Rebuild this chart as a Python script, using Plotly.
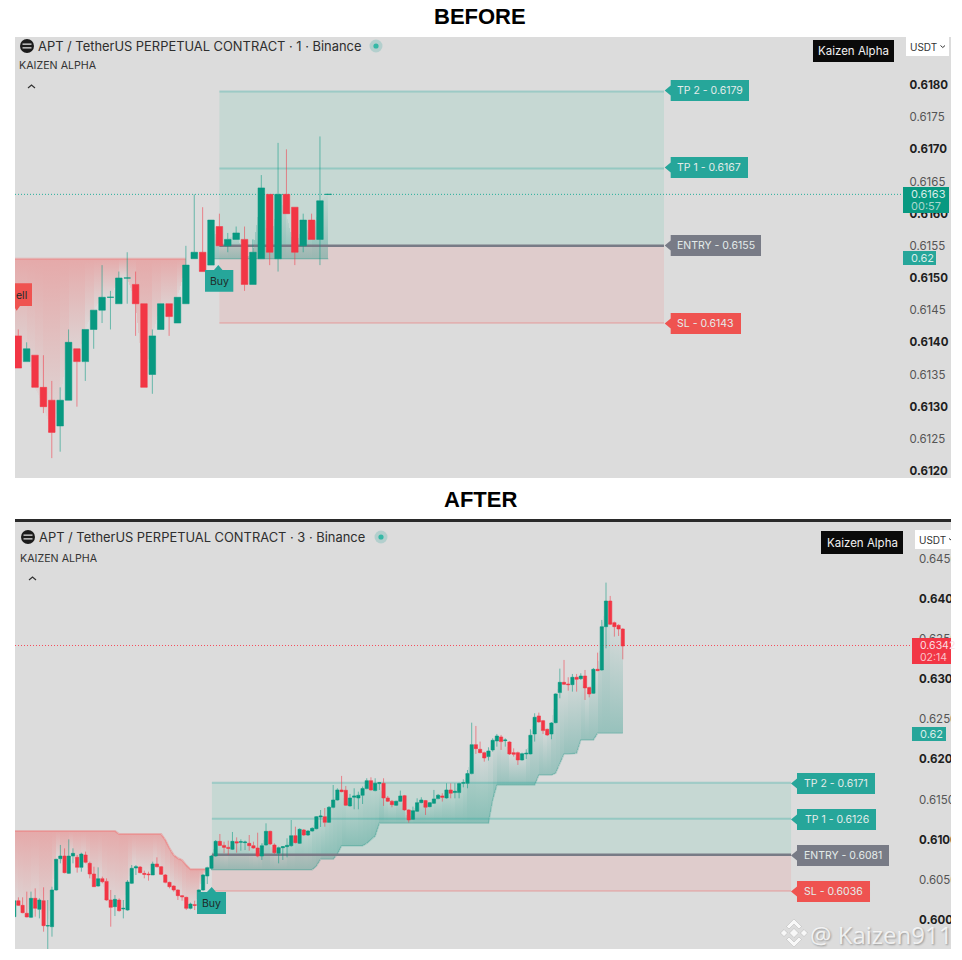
import plotly.graph_objects as go

W = 962
H = 960

# BEFORE panel, 1 minute candles
bef_open = [.6141, .6137, .6138, .6133, .6131, .6127, .6131, .6139, .6137, .6142,
            .6145, .6147, .6146, .6150, .6149, .6146, .6135, .6142, .6146, .6143,
            .6146, .6153, .6154, .6152, .6158, .6155, .6156, .6156, .6149, .6153,
            .6163, .6153, .6163, .6161, .6155, .6159, .6156, .6163]
bef_high = [.6142, .6140, .6138, .6138, .6134, .6133, .6142, .6139, .6142, .6145,
            .6152, .6148, .6151, .6154, .6151, .6146, .6142, .6146, .6146, .6147,
            .6155, .6163, .6161, .6159, .6160, .6157, .6158, .6158, .6156, .6166,
            .6163, .6171, .6170, .6161, .6160, .6160, .6172, .6163]
bef_low = [.6136, .6137, .6133, .6129, .6122, .6123, .6131, .6130, .6134, .6139,
           .6143, .6142, .6146, .6146, .6141, .6133, .6132, .6142, .6141, .6143,
           .6146, .6153, .6151, .6152, .6155, .6154, .6156, .6148, .6149, .6153,
           .6152, .6151, .6160, .6152, .6154, .6156, .6152, .6163]
bef_close = [.6136, .6139, .6133, .6130, .6126, .6131, .6140, .6137, .6142, .6145,
             .6147, .6147, .6150, .6150, .6146, .6133, .6141, .6146, .6144, .6147,
             .6152, .6154, .6151, .6159, .6155, .6156, .6157, .6149, .6154, .6164,
             .6154, .6163, .6160, .6154, .6159, .6156, .6162, .6163]
bef_red_stop = [.6153] * 21
bef_teal_stop = [.6153] * 15
bef_ticks = [.6180, .6175, .6170, .6165, .6160, .6155, .6150, .6145, .6140, .6135, .6130, .6125, .6120]
bef_levels = {"TP 2": .6179, "TP 1": .6167, "ENTRY": .6155, "SL": .6143}
bef_last = .6163

# AFTER panel, 3 minute candles
aft_open = [.60039, .60238, .60180, .60081, .60031, .60268, .60131, .60238, .59923, .59914,
            .60372, .60762, .60795, .60579, .60795, .60779, .60654, .60808, .60704, .60571,
            .60421, .60513, .60479, .60247, .60164, .60247, .60135, .60122, .60455, .60646,
            .60658, .60579, .60571, .60559, .60696, .60662, .60559, .60467, .60421, .60372,
            .60301, .60280, .60143, .60189, .60185, .60372, .60546, .60642, .60795, .60978,
            .60928, .60903, .60879, .60974, .60966, .60962, .60953, .60924, .60895, .60795,
            .60933, .61103, .60933, .60829, .60899, .60912, .60924, .61049, .60953, .61120,
            .61057, .61107, .61136, .61282, .61286, .61215, .61402, .61494, .61619, .61615,
            .61420, .61528, .61519, .61553, .61636, .61735, .61611, .61698, .61702, .61519,
            .61478, .61428, .61478, .61548, .61370, .61253, .61353, .61461, .61486, .61411,
            .61453, .61511, .61544, .61519, .61619, .61586, .61586, .61702, .61702, .61823,
            .62184, .62126, .62084, .62035, .62118, .62230, .62280, .62234, .62217, .62084,
            .62084, .61993, .62068, .62068, .62317, .62542, .62483, .62375, .62317, .62458,
            .62833, .62961, .62940, .62932, .63024, .63007, .63040, .62895, .62824, .63123,
            .63115, .63655, .63975, .63705, .63672, .63626]
aft_high = [.60280, .60280, .60280, .60351, .60351, .60392, .60268, .60405, .60247, .60413,
            .60762, .60933, .60891, .61003, .60891, .60808, .60837, .60850, .60725, .60662,
            .60654, .60538, .60517, .60372, .60309, .60268, .60247, .60496, .60683, .60683,
            .60671, .60613, .60600, .60725, .60779, .60671, .60571, .60475, .60430, .60380,
            .60309, .60288, .60214, .60238, .60380, .60571, .60662, .60808, .60995, .61070,
            .60974, .60987, .61095, .61028, .61003, .60987, .61057, .60974, .61086, .60953,
            .61203, .61111, .60953, .60912, .60920, .61016, .61244, .61161, .61140, .61132,
            .61120, .61153, .61294, .61369, .61394, .61419, .61681, .61640, .61794, .61669,
            .61569, .61640, .61598, .61661, .61765, .61777, .61765, .61719, .61765, .61544,
            .61494, .61486, .61611, .61557, .61378, .61411, .61515, .61528, .61494, .61469,
            .61619, .61569, .61578, .61702, .61702, .61702, .61710, .61752, .61868, .62458,
            .62417, .62222, .62097, .62151, .62263, .62317, .62305, .62263, .62226, .62138,
            .62097, .62084, .62126, .62375, .62575, .62583, .62492, .62384, .62463, .62824,
            .63132, .63240, .63024, .63065, .63065, .63074, .63115, .62907, .63140, .63331,
            .63739, .64204, .64038, .63718, .63685, .63635]
aft_low = [.60031, .60172, .60081, .60031, .60022, .60039, .60018, .59852, .59632, .59790,
           .60363, .60704, .60579, .60571, .60704, .60588, .60600, .60704, .60517, .60413,
           .60413, .60455, .60238, .59914, .60047, .60101, .60018, .60114, .60446, .60559,
           .60579, .60517, .60488, .60559, .60654, .60559, .60455, .60392, .60351, .60247,
           .60238, .60122, .60131, .60122, .60172, .60363, .60446, .60629, .60787, .60920,
           .60829, .60808, .60870, .60837, .60862, .60870, .60862, .60887, .60779, .60746,
           .60924, .60933, .60820, .60704, .60746, .60779, .60912, .60953, .60945, .61045,
           .61045, .61099, .61128, .61157, .61161, .61207, .61390, .61486, .61590, .61420,
           .61411, .61378, .61378, .61444, .61627, .61611, .61602, .61619, .61420, .61469,
           .61403, .61420, .61469, .61361, .61212, .61245, .61345, .61453, .61307, .61403,
           .61444, .61503, .61474, .61511, .61515, .61515, .61515, .61652, .61640, .61814,
           .62068, .62076, .61972, .61985, .62097, .62159, .62118, .62159, .62055, .62035,
           .61931, .61985, .62006, .62064, .62222, .62458, .62317, .62292, .62251, .62450,
           .62762, .62928, .62857, .62845, .62845, .62991, .62741, .62774, .62816, .63099,
           .63107, .63385, .63676, .63531, .63539, .63248]
aft_close = [.60238, .60180, .60089, .60035, .60268, .60143, .60247, .59927, .59927, .60372,
             .60754, .60795, .60588, .60795, .60829, .60654, .60820, .60717, .60571, .60413,
             .60513, .60475, .60247, .60155, .60255, .60114, .60143, .60471, .60642, .60662,
             .60588, .60567, .60563, .60696, .60662, .60567, .60467, .60413, .60372, .60301,
             .60288, .60143, .60197, .60180, .60372, .60559, .60650, .60795, .60978, .60928,
             .60903, .60891, .60978, .60958, .60974, .60970, .60924, .60895, .60795, .60924,
             .61103, .60945, .60837, .60899, .60912, .60928, .61049, .60962, .61128, .61057,
             .61107, .61140, .61286, .61294, .61215, .61402, .61494, .61619, .61598, .61428,
             .61519, .61544, .61553, .61636, .61735, .61619, .61702, .61710, .61519, .61478,
             .61436, .61478, .61544, .61370, .61245, .61361, .61461, .61494, .61403, .61461,
             .61507, .61553, .61528, .61619, .61578, .61602, .61698, .61710, .61823, .62184,
             .62134, .62084, .62018, .62105, .62238, .62292, .62222, .62242, .62068, .62064,
             .61993, .62072, .62076, .62301, .62525, .62467, .62359, .62305, .62454, .62816,
             .62961, .62936, .62932, .63024, .62999, .63040, .62891, .62816, .63123, .63107,
             .63655, .63975, .63685, .63655, .63626, .63414]
aft_red_stop = [.61107] * 25 + [.61070] * 11 + [.60995, .60891, .60808, .60767, .60746, .60680,
                                                .60629, .60629, .60629, .60629, .60629]
aft_teal_stop = [.60625] * 25 + [.60671] + [.60754] * 4 + [.60820] + [.60924] * 6 + \
    [.60953, .61003, .61045] + [.61203] * 27 + [.61494] + [.61681] * 10 + [.61806] * 4 + \
    [.61827, .61951, .62068, .62068, .62068, .62076, .62242, .62242, .62242, .62242] + [.62326] * 7
aft_ticks = [.6450, .6400, .6350, .6300, .6250, .6200, .6150, .6100, .6050, .6000]
aft_levels = {"TP 2": .6171, "TP 1": .6126, "ENTRY": .6081, "SL": .6036}
aft_last = .6342

TEAL = "#26a69a"
UP = "#089981"
DOWN = "#f23645"
PANEL = "#dcdcdc"
FONT = "Inter"


def px(x):
    return x / W


def py(y):
    return 1 - y / H


def poly(points, color, layer="above", line=None):
    path = "M " + " L ".join(f"{px(a):.5f},{py(b):.5f}" for a, b in points) + " Z"
    return dict(type="path", path=path, xref="paper", yref="paper", fillcolor=color, layer=layer,
                line=line or dict(width=0))


def rect(x0, y0, x1, y1, color):
    return poly([(x0, y0), (x1, y0), (x1, y1), (x0, y1)], color)


def circle(cx, cy, r, color):
    return dict(type="circle", xref="paper", yref="paper", x0=px(cx - r), x1=px(cx + r),
                y0=py(cy + r), y1=py(cy - r), fillcolor=color, line=dict(width=0))


def stroke(points, color, width=1.2):
    path = "M " + " L ".join(f"{px(a):.5f},{py(b):.5f}" for a, b in points)
    return dict(type="path", path=path, xref="paper", yref="paper", line=dict(color=color, width=width))


def label(x, y, text, size=11, color="#333333", anchor="left", family=FONT, shadow=None):
    font = dict(family=family, size=size, color=color)
    if shadow:
        font["shadow"] = shadow
    return dict(x=px(x), y=py(y), xref="paper", yref="paper", text=text, showarrow=False, font=font,
                xanchor=anchor, yanchor="middle", borderpad=0)


def tick_text(ticks, first_bold):
    # the scale alternates bold and plain labels
    out = []
    for n, t in enumerate(ticks):
        if n % 2 == first_bold:
            out.append(f"<b><span style='color:#1e1e1e'>{t:.4f}</span></b>")
        else:
            out.append(f"{t:.4f}")
    return out


def add_cloud(fig, xs, top, bot, rgb, strong_top, alpha, xa, ya):
    strong = f"rgba({rgb},{alpha})"
    faint = f"rgba({rgb},0.03)"
    for a in range(len(xs) - 1):
        ys = [top[a], top[a + 1], bot[a + 1], bot[a]]
        if max(ys) - min(ys) < 1e-6:
            continue
        scale = [[0, faint], [1, strong]] if strong_top else [[0, strong], [1, faint]]
        fig.add_trace(go.Scatter(x=[xs[a], xs[a + 1], xs[a + 1], xs[a], xs[a]], y=ys + [ys[0]],
                                 mode="none", fill="toself",
                                 fillgradient=dict(type="vertical", colorscale=scale),
                                 hoverinfo="skip", showlegend=False, xaxis=xa, yaxis=ya))


def add_line(fig, xs, ys, color, width, xa, ya, dash="solid"):
    fig.add_trace(go.Scatter(x=xs, y=ys, mode="lines", line=dict(color=color, width=width, dash=dash, shape="linear"),
                             hoverinfo="skip", showlegend=False, xaxis=xa, yaxis=ya))


def add_candles(fig, o, h, l, c, xa, ya):
    fig.add_trace(go.Candlestick(x=list(range(len(o))), open=o, high=h, low=l, close=c,
                                 increasing=dict(fillcolor=UP, line=dict(color="rgba(8,153,129,0.55)", width=1)),
                                 decreasing=dict(fillcolor=DOWN, line=dict(color="rgba(242,54,69,0.55)", width=1)),
                                 hoverinfo="skip", showlegend=False, xaxis=xa, yaxis=ya))


fig = go.Figure()

# BEFORE: x index 0 sits at pixel 18.3, one candle every 8.38 px
bx = (-0.39, 111.3)
by = (0.611891, 0.618746)
bef_x = list(range(len(bef_open)))
add_cloud(fig, [-1] + bef_x[:21], [.6153] + bef_red_stop, [bef_close[0]] + [min(c, s) for c, s in zip(bef_close[:21], bef_red_stop)],
          "240,110,110", True, 0.46, "x", "y")
add_cloud(fig, bef_x[23:], [max(c, s) for c, s in zip(bef_close[23:], bef_teal_stop)], bef_teal_stop,
          "38,150,135", False, 0.38, "x", "y")
add_line(fig, [-1] + bef_x[:21], [.6153] + bef_red_stop, "rgba(240,110,110,0.4)", 2, "x", "y")
add_line(fig, bef_x[23:], bef_teal_stop, "rgba(38,150,135,0.28)", 1.5, "x", "y")
bef_box = (24.0, 77.05)
add_line(fig, bef_box, [bef_levels["TP 2"]] * 2, "rgba(38,166,154,0.3)", 2, "x", "y")
add_line(fig, bef_box, [bef_levels["TP 1"]] * 2, "rgba(38,166,154,0.3)", 2, "x", "y")
add_line(fig, bef_box, [bef_levels["ENTRY"]] * 2, "#787b86", 2.5, "x", "y")
add_line(fig, bef_box, [bef_levels["SL"]] * 2, "rgba(239,83,80,0.22)", 2, "x", "y")
add_line(fig, (bx[0], 105.6), [bef_last] * 2, "rgba(20,170,150,0.9)", 1, "x", "y", dash="1px,2px")
add_candles(fig, bef_open, bef_high, bef_low, bef_close, "x3", "y3")

# AFTER: x index 0 sits at pixel 14.2, one candle every 4.197 px
ax = (0.19, 223.2)
ay = (0.59636, 0.64960)
aft_x = list(range(len(aft_open)))
add_cloud(fig, aft_x[:47], aft_red_stop, [min(c, s) for c, s in zip(aft_close[:47], aft_red_stop)],
          "240,110,110", True, 0.46, "x2", "y2")
add_cloud(fig, aft_x[47:], [max(c, s) for c, s in zip(aft_close[47:], aft_teal_stop)], aft_teal_stop,
          "38,150,135", False, 0.38, "x2", "y2")
add_line(fig, aft_x[:47], aft_red_stop, "rgba(240,110,110,0.4)", 2, "x2", "y2")
add_line(fig, aft_x[47:], aft_teal_stop, "rgba(38,150,135,0.28)", 1.5, "x2", "y2")
aft_box = (47.1, 185.1)
add_line(fig, aft_box, [aft_levels["TP 2"]] * 2, "rgba(38,166,154,0.3)", 2, "x2", "y2")
add_line(fig, aft_box, [aft_levels["TP 1"]] * 2, "rgba(38,166,154,0.3)", 2, "x2", "y2")
add_line(fig, aft_box, [aft_levels["ENTRY"]] * 2, "#787b86", 2.5, "x2", "y2")
add_line(fig, aft_box, [aft_levels["SL"]] * 2, "rgba(239,83,80,0.22)", 2, "x2", "y2")
add_line(fig, (ax[0], 213.9), [aft_last] * 2, "rgba(245,70,85,0.95)", 1, "x2", "y2", dash="1px,2px")
add_candles(fig, aft_open, aft_high, aft_low, aft_close, "x4", "y4")

TOP_DOM = [py(478), py(37)]
BOT_DOM = [py(949), py(522)]
X_DOM = [px(15), px(951)]
hidden = dict(visible=False, showgrid=False, zeroline=False, fixedrange=True, rangeslider=dict(visible=False))


def price_axis(rng, dom, ticks, pos, first_bold):
    return dict(range=rng, domain=dom, anchor="free", position=pos, side="right", tickmode="array",
                tickvals=ticks, ticktext=tick_text(ticks, first_bold), ticks="", showline=False, showgrid=False,
                zeroline=False, fixedrange=True, tickfont=dict(family=FONT, size=11.5, color="#555555"))


shapes = [
    # target and stop boxes under everything
    dict(type="rect", xref="x", yref="y", x0=bef_box[0], x1=bef_box[1], y0=bef_levels["ENTRY"], y1=bef_levels["TP 2"],
         fillcolor="#c6d8d3", line=dict(width=0), layer="below"),
    dict(type="rect", xref="x", yref="y", x0=bef_box[0], x1=bef_box[1], y0=bef_levels["SL"], y1=bef_levels["ENTRY"],
         fillcolor="#dfcccc", line=dict(width=0), layer="below"),
    dict(type="rect", xref="x2", yref="y2", x0=aft_box[0], x1=aft_box[1], y0=aft_levels["ENTRY"], y1=aft_levels["TP 2"],
         fillcolor="#c6d8d3", line=dict(width=0), layer="below"),
    dict(type="rect", xref="x2", yref="y2", x0=aft_box[0], x1=aft_box[1], y0=aft_levels["SL"], y1=aft_levels["ENTRY"],
         fillcolor="#dfcccc", line=dict(width=0), layer="below"),
    rect(15, 519, 951, 522, "#2a2a2a"),
    # price scale runs off the page edge in the lower panel
    rect(951, 522, 962, 949, "#ffffff"),
]
notes = [
    label(480, 17, "<b>BEFORE</b>", 22, "#000000", "center", "Liberation Sans"),
    label(480, 499.5, "<b>AFTER</b>", 22, "#000000", "center", "Liberation Sans"),
]


def header(icon_x, y, text, text_x, dot_x, alpha_x, alpha_y, box, usdt):
    shapes.extend([circle(icon_x, y, 7, "#1c1c1c"),
                   rect(icon_x - 4.5, y - 2.5, icon_x + 4.5, y - 1.2, "#dcdcdc"),
                   rect(icon_x - 4.5, y + 1.2, icon_x + 4.5, y + 2.5, "#dcdcdc"),
                   circle(dot_x, y, 6.5, "rgba(38,166,154,0.22)"),
                   circle(dot_x, y, 2.6, "#35b8a6"),
                   stroke([(alpha_x + 9, alpha_y + 22), (alpha_x + 12.5, alpha_y + 19), (alpha_x + 16, alpha_y + 22)], "#333333"),
                   rect(box[0], box[1], box[2], box[3], "#0a0a0a"),
                   rect(usdt[0], usdt[1], usdt[2], usdt[3], "#ffffff")])
    notes.extend([label(text_x, y, text, 12.9, "#2e2e2e"),
                  label(alpha_x - 1, alpha_y, "KAIZEN ALPHA", 10.7, "#333333"),
                  label((box[0] + box[2]) / 2, (box[1] + box[3]) / 2, "Kaizen Alpha", 11.5, "#f2f2f2", "center"),
                  label(usdt[0] + 2.5, (usdt[1] + usdt[3]) / 2, "USDT", 10, "#333333")])


header(27, 46, "APT / TetherUS PERPETUAL CONTRACT · 1 · Binance", 37, 376, 19, 66, (813, 40, 894, 62), (906, 37, 949, 56))
shapes.append(stroke([(940.5, 45.5), (942.8, 47.5), (945, 45.5)], "#333333", 1))
header(28, 537, "APT / TetherUS PERPETUAL CONTRACT · 3 · Binance", 38, 381, 20, 558, (821, 531, 903, 554), (915, 530, 951, 549))
shapes.append(stroke([(949, 538.5), (951, 540)], "#333333", 1))


def price_tag(x0, x1, y0, y1, name, value, color):
    mid = (y0 + y1) / 2
    shapes.append(poly([(x0, y0), (x1, y0), (x1, y1), (x0, y1), (x0, mid + 5), (x0 - 6, mid), (x0, mid - 5)], color))
    notes.append(label((x0 + x1) / 2, mid, f"{name} - {value:.4f}", 10.5, "#e4ecea", "center"))


price_tag(670.7, 749, 80, 101, "TP 2", bef_levels["TP 2"], TEAL)
price_tag(670.7, 748, 157, 178, "TP 1", bef_levels["TP 1"], TEAL)
price_tag(670.7, 761, 235, 256, "ENTRY", bef_levels["ENTRY"], "#787b86")
price_tag(670.7, 741, 313, 334, "SL", bef_levels["SL"], "#ef5350")
price_tag(797, 875, 773, 794, "TP 2", aft_levels["TP 2"], TEAL)
price_tag(797, 876, 809, 830, "TP 1", aft_levels["TP 1"], TEAL)
price_tag(797, 889, 845, 866, "ENTRY", aft_levels["ENTRY"], "#787b86")
price_tag(797, 870, 881, 902, "SL", aft_levels["SL"], "#ef5350")

# last price boxes on the scale
shapes.extend([rect(903, 187, 949, 213, UP), rect(903, 251, 936, 265, TEAL),
               rect(912, 638, 951, 664, DOWN), rect(912, 727, 946, 741, TEAL)])
notes.extend([label(910, 194, f"{bef_last:.4f}", 11, "#d8ece8"), label(910, 206, "00:57", 11, "#a8d8cf"),
              label(910, 258, "0.62", 11, "#d8ece8"),
              label(919, 645, f"{aft_last:.4f}", 10.5, "#fbdfe2"), label(919, 657, "02:14", 10.5, "#f9c4ca"),
              label(919, 734, "0.62", 11, "#d8ece8")])

# buy / sell flags
shapes.extend([poly([(205, 270), (214, 270), (218.3, 265), (222.5, 270), (233.3, 270), (233.3, 291.7), (205, 291.7)], TEAL),
               poly([(15, 283.3), (32, 283.3), (32, 306), (20, 306), (16.7, 310.7), (15, 308)], "#ef5350"),
               poly([(197, 892), (207, 892), (211.7, 887), (216, 892), (226, 892), (226, 914), (197, 914)], TEAL)])
notes.extend([label(219, 281, "Buy", 10.5, "#1f2a29", "center"), label(21.5, 295, "ell", 10.5, "#1f2a29", "center"),
              label(211.5, 903.5, "Buy", 10.5, "#1f2a29", "center")])

# watermark
mark = "rgba(255,255,255,0.8)"
mark_edge = dict(color="rgba(110,110,110,0.35)", width=0.6)
mx, my = 794, 933
for dx, r in [(0, 4.5), (-10, 3.5), (10, 3.5)]:
    shapes.append(poly([(mx + dx - r, my), (mx + dx, my - r), (mx + dx + r, my), (mx + dx, my + r)], mark, line=mark_edge))
for flip in (-1, 1):
    shapes.append(poly([(mx, my + flip * 14), (mx + 7.5, my + flip * 6.5), (mx + 5, my + flip * 4),
                        (mx, my + flip * 9), (mx - 5, my + flip * 4), (mx - 7.5, my + flip * 6.5)], mark, line=mark_edge))
notes.append(label(953, 934, "@ Kaizen911", 24, "rgba(255,255,255,0.8)", "right", "Open Sans",
                   shadow="1px 1px 2px rgba(0,0,0,0.4)"))

fig.update_layout(
    width=W, height=H, margin=dict(l=0, r=0, t=0, b=0), paper_bgcolor="#ffffff", plot_bgcolor=PANEL,
    showlegend=False, boxgap=0.22, boxgroupgap=0, hovermode=False, dragmode=False,
    xaxis=dict(range=bx, domain=X_DOM, anchor="y", **hidden),
    xaxis2=dict(range=ax, domain=X_DOM, anchor="y2", **hidden),
    xaxis3=dict(range=bx, domain=X_DOM, anchor="y3", overlaying="x", **hidden),
    xaxis4=dict(range=ax, domain=X_DOM, anchor="y4", overlaying="x2", **hidden),
    yaxis=price_axis(by, TOP_DOM, bef_ticks, px(908.5), 0),
    yaxis2=price_axis(ay, BOT_DOM, aft_ticks, px(918), 1),
    yaxis3=dict(range=by, domain=TOP_DOM, anchor="x3", overlaying="y", visible=False, fixedrange=True),
    yaxis4=dict(range=ay, domain=BOT_DOM, anchor="x4", overlaying="y2", visible=False, fixedrange=True),
    shapes=shapes, annotations=notes,
)

# crisp fills stop the column seams in the clouds
fig.write_html("out.html", config=dict(displayModeBar=False),
               post_script="document.body.style.margin='0';"
                           "document.querySelectorAll('.js-fill').forEach(p => p.style.shapeRendering = 'crispEdges');")
